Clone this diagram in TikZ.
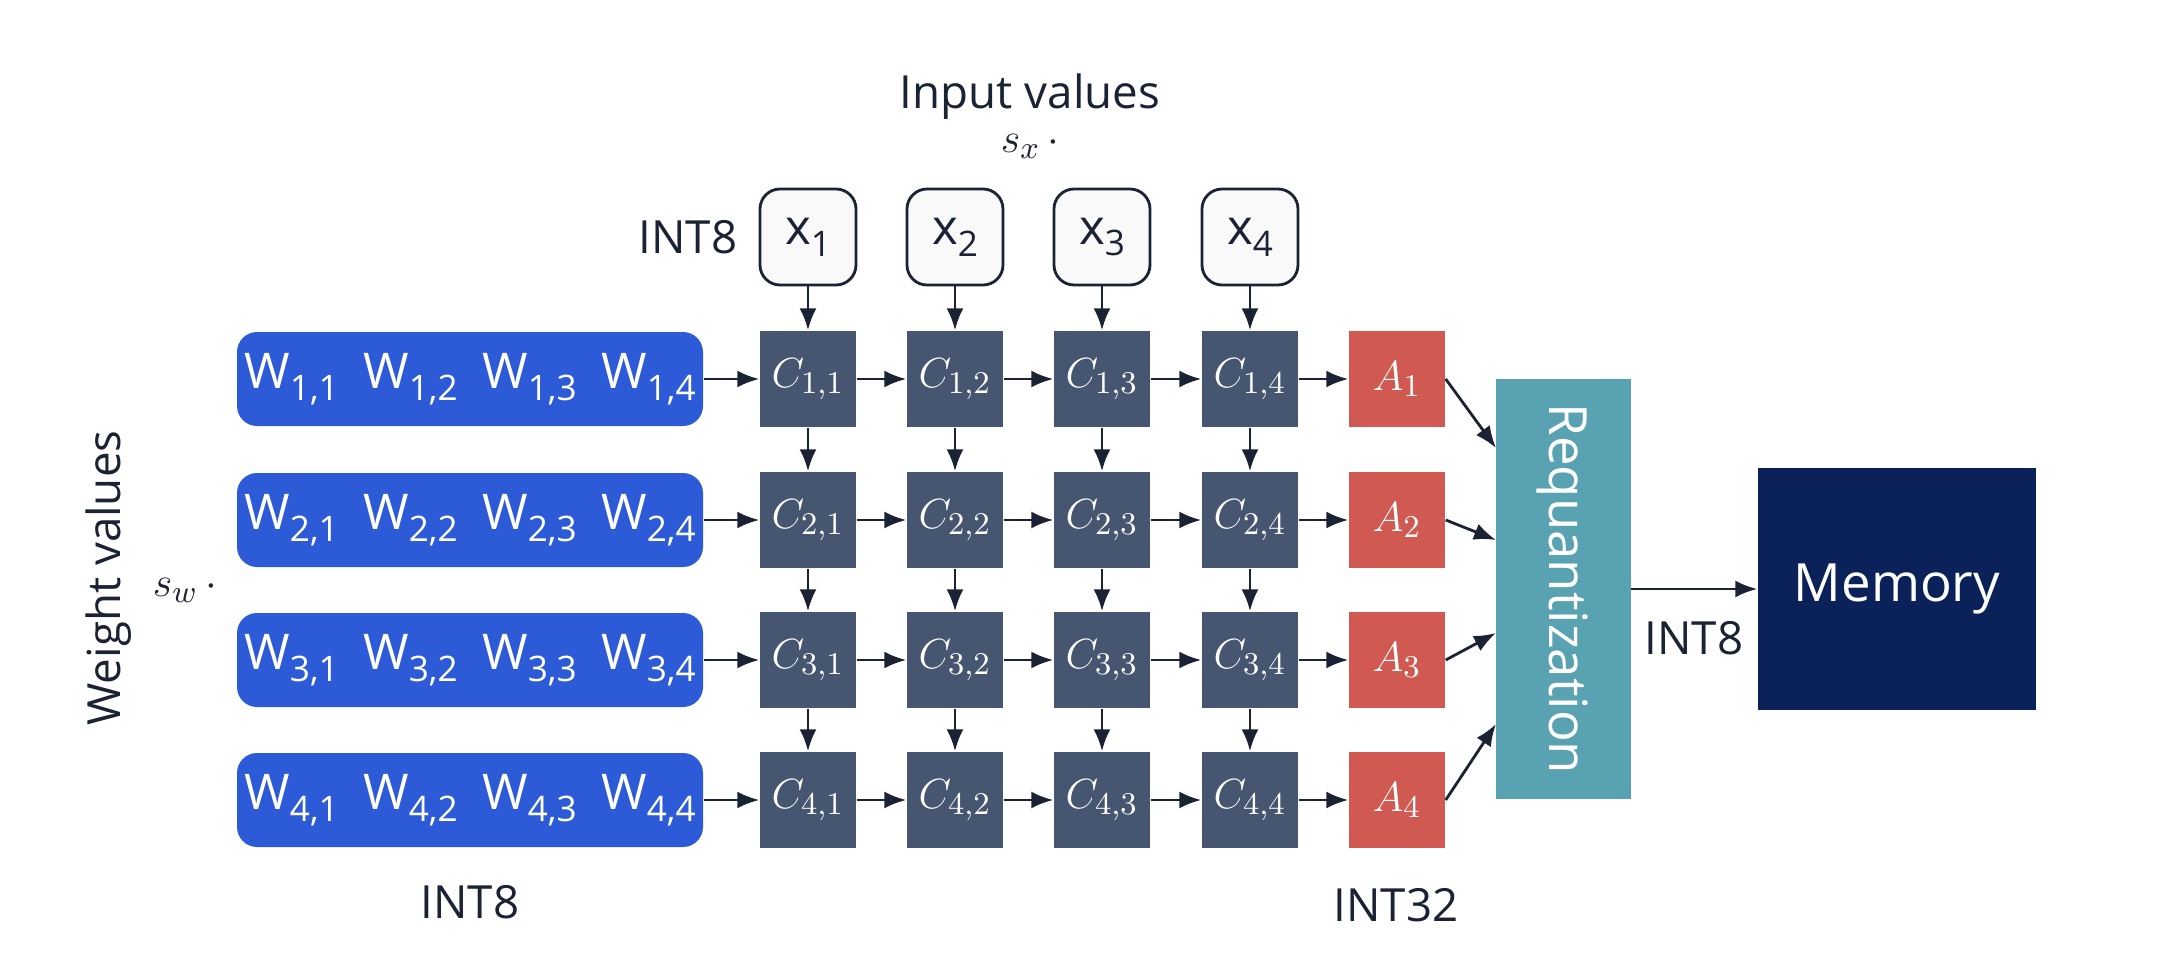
\documentclass[tikz,border=0pt]{standalone}
\usepackage{fontspec}
\setmainfont{Open Sans}
\usetikzlibrary{arrows.meta}
\definecolor{wblue}{HTML}{2D5BD8}
\definecolor{cgray}{HTML}{465670}
\definecolor{ared}{HTML}{D05A52}
\definecolor{qteal}{HTML}{58A2B2}
\definecolor{mnavy}{HTML}{0A2259}
\definecolor{ink}{HTML}{1A2233}
\newcommand{\wsub}[1]{W\raisebox{-0.45ex}{\fontsize{10}{10}\selectfont #1}}
\newcommand{\xsub}[1]{x\raisebox{-0.45ex}{\fontsize{10}{10}\selectfont #1}}

\begin{document}
\begin{tikzpicture}[x=0.1mm, y=-0.1mm, font=\fontsize{12}{14}\selectfont\color{ink},
  weight/.style = {shape=rectangle, rounded corners=2mm, fill=wblue,
    minimum width=46.6mm, minimum height=9.4mm, text=white, inner sep=0pt},
  cell/.style = {shape=rectangle, fill=cgray, minimum size=9.6mm,
    text=white, inner sep=0pt},
  acc/.style = {shape=rectangle, fill=ared, minimum size=9.6mm,
    text=white, inner sep=0pt},
  input/.style = {shape=rectangle, rounded corners=2mm, draw=ink, thick,
    fill=gray!5, minimum size=9.6mm, inner sep=0pt},
  link/.style = {-{Latex[length=2.2mm,width=1.7mm]}, thick, ink}]
  \useasboundingbox (0,0) rectangle (2182,966);

  % grid of cells
  \foreach \i/\y in {1/379,2/520,3/660,4/800} {
    \node[weight] (w\i) at (470,\y) {\fontsize{14}{14}\selectfont\wsub{\i,1}\enspace\wsub{\i,2}\enspace\wsub{\i,3}\enspace\wsub{\i,4}};
    \foreach \j/\x in {1/808,2/955,3/1102,4/1250}
      \node[cell] (c\i\j) at (\x,\y) {\fontsize{13}{13}\selectfont$C_{\i,\j}$};
    \node[acc] (a\i) at (1397,\y) {\fontsize{13}{13}\selectfont$A_{\i}$};
  }
  \foreach \j/\x in {1/808,2/955,3/1102,4/1250}
    \node[input] (x\j) at (\x,237) {\fontsize{14}{14}\selectfont\xsub{\j}};

  \node[fill=qteal, minimum width=13.5mm, minimum height=42mm, inner sep=0pt] (req) at (1563,589)
    {\rotatebox{-90}{\fontsize{15}{15}\selectfont\color{white}Requantization}};
  \node[fill=mnavy, minimum width=27.8mm, minimum height=24.2mm, inner sep=0pt] (mem) at (1897,589)
    {\fontsize{15}{15}\selectfont\color{white}Memory};

  % labels
  \node (inval) at (1030,97) {\fontsize{13}{13}\selectfont Input values};
  \node (sx) at (1030,146) {\fontsize{13}{13}\selectfont$s_x\,\cdot$};
  \node (int8top) at (688,237) {\fontsize{13}{13}\selectfont INT8};
  \node[rotate=90] (wval) at (109,578) {\fontsize{13}{13}\selectfont Weight values};
  \node (sw) at (185,590) {\fontsize{13}{13}\selectfont$s_w\,\cdot$};
  \node (int8bot) at (470,902) {\fontsize{13}{13}\selectfont INT8};
  \node (int32) at (1396,905) {\fontsize{13}{13}\selectfont INT32};
  \node (int8mid) at (1694,638) {\fontsize{13}{13}\selectfont INT8};

  % connectors
  \foreach \j in {1,...,4} {
    \draw[link] (x\j) -- (c1\j);
    \foreach \i/\k in {1/2,2/3,3/4}
      \draw[link] (c\i\j) -- (c\k\j);
  }
  \foreach \i/\ry in {1/448,2/540,3/633,4/724} {
    \draw[link] (w\i) -- (c\i1);
    \draw[link] (c\i1) -- (c\i2);
    \draw[link] (c\i2) -- (c\i3);
    \draw[link] (c\i3) -- (c\i4);
    \draw[link] (c\i4) -- (a\i);
    \coordinate (r\i) at (1496,\ry);
    \draw[link] (a\i.east) -- (r\i);
  }
  \draw[link] (req.east) -- (mem.west);
\end{tikzpicture}
\end{document}
